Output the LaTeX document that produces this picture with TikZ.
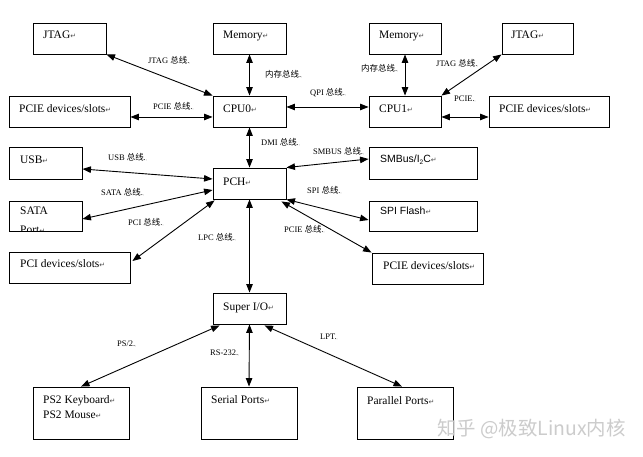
\documentclass[tikz,border=0pt]{standalone}
\usepackage{fontspec}
\setmainfont{Liberation Serif}
\setsansfont{Liberation Sans}
\newfontfamily\cjk{Noto Sans CJK SC}
\newfontfamily\symf{DejaVu Sans}
\usetikzlibrary{arrows.meta,calc,fit}
\newcommand{\ret}{{\symf\fontsize{7}{7}\selectfont\color{black!70}↵}}
\newcommand{\zx}{{\cjk 总线}}
\newcommand{\nc}{{\cjk 内存总线}}
\newcommand{\dt}{.{\fontsize{4}{4}\selectfont\color{black!60},}}
\begin{document}
\begin{tikzpicture}[x=1bp,y=-1bp,
  box/.style={draw, line width=0.9bp, inner sep=0pt},
  btxt/.style={anchor=base west, inner sep=0pt, font=\fontsize{11.5}{13}\selectfont},
  stxt/.style={anchor=base west, inner sep=0pt, font=\sffamily\fontsize{10.5}{13}\selectfont},
  lbl/.style={anchor=west, inner sep=0pt, font=\fontsize{8.5}{9}\selectfont},
  link/.style={line width=0.9bp, {Triangle[length=8.5bp,width=6.5bp]}-{Triangle[length=8.5bp,width=6.5bp]}},
]
\useasboundingbox (0,0) rectangle (643,457);
\fill[white] (0,0) rectangle (643,457);

% boxes
\node[box, fit={(33,23) (106,54)}] (jtagL) {};
\node[box, fit={(213,23) (286,54)}] (memL) {};
\node[box, fit={(9,96) (130,127)}] (pcieL) {};
\node[box, fit={(213,96) (286,127)}] (cpu0) {};
\node[box, fit={(369,23) (441,54)}] (memR) {};
\node[box, fit={(502,23) (573,54)}] (jtagR) {};
\node[box, fit={(369,96) (441,127)}] (cpu1) {};
\node[box, fit={(489,96) (609,127)}] (pcieR) {};
\node[box, fit={(9,147) (82,179)}] (usb) {};
\node[box, fit={(213,168) (286,199)}] (pch) {};
\node[box, fit={(9,201) (82,231)}] (sata) {};
\node[box, fit={(9,252) (130,283)}] (pci) {};
\node[box, fit={(369,147) (477,179)}] (smbus) {};
\node[box, fit={(369,201) (477,231)}] (spi) {};
\node[box, fit={(372,253) (483,284)}] (pcieD) {};
\node[box, fit={(213,293) (286,324)}] (sio) {};
\node[box, fit={(33,387) (129,439)}] (ps2) {};
\node[box, fit={(201,387) (297,439)}] (serial) {};
\node[box, fit={(357,387) (453,439)}] (parallel) {};

% box texts
\node[btxt] (jtagLt) at (43,39) {JTAG\ret};
\node[btxt] (memLt) at (223,39) {Memory\ret};
\node[btxt] (pcieLt) at (19,113) {PCIE devices/slots\ret};
\node[btxt] (cpu0t) at (223,113) {CPU0\ret};
\node[btxt] (memRt) at (379,39) {Memory\ret};
\node[btxt] (jtagRt) at (511,39) {JTAG\ret};
\node[btxt] (cpu1t) at (379,113) {CPU1\ret};
\node[btxt] (pcieRt) at (499,113) {PCIE devices/slots\ret};
\node[btxt] (usbt) at (20,164) {USB\ret};
\node[btxt] (pcht) at (223,186) {PCH\ret};
\node[btxt] (satat) at (20,215) {SATA};
\begin{scope}
  \clip (9,201) rectangle (82,231);
  \node[btxt] (satat2) at (20,234) {Port\ret};
\end{scope}
\node[btxt] (pcit) at (20,268) {PCI devices/slots\ret};
\node[stxt] (smbust) at (380,163) {SMBus/I\raisebox{-0.35ex}{\fontsize{6.5}{7}\selectfont 2}C\ret};
\node[stxt] (spit) at (380,215) {SPI Flash\ret};
\node[btxt] (pcieDt) at (383,270) {PCIE devices/slots\ret};
\node[btxt] (siot) at (223,311) {Super I/O\ret};
\node[btxt] (ps2t1) at (43,403) {PS2 Keyboard\ret};
\node[btxt] (ps2t2) at (43,418) {PS2 Mouse\ret};
\node[btxt] (serialt) at (211,403) {Serial Ports\ret};
\node[btxt] (parallelt) at (367,404) {Parallel Ports\ret};

% connectors
\draw[link] (jtagL.south east) -- (cpu0.north west);
\draw[link] (memL.south) -- (cpu0.north);
\draw[link] ($(pcieL.east)+(0,5.5)$) -- ($(cpu0.west)+(0,5.5)$);
\draw[link] ($(cpu0.east)+(0,-4.5)$) -- ($(cpu1.west)+(0,-4.5)$);
\draw[link] (memR.south) -- (cpu1.north);
\draw[link] (jtagR.south west) -- (cpu1.north east);
\draw[link] ($(cpu1.east)+(0,5.5)$) -- ($(pcieR.west)+(0,5.5)$);
\draw[link] (cpu0.south) -- (pch.north);
\draw[link] ($(usb.east)+(0,6)$) -- ($(pch.west)+(0,-4.5)$);
\draw[link] ($(sata.east)+(0,3)$) -- ($(pch.west)+(0,6.5)$);
\draw[link] ($(pci.east)+(2,-6.5)$) -- ($(pch.south west)+(2,1)$);
\draw[link] (pch.north east) -- ($(smbus.west)+(0,-4)$);
\draw[link] (pch.south east) -- ($(spi.west)+(0,4)$);
\draw[link] ($(pch.south east)+(-5,2)$) -- (pcieD.north west);
\draw[link] (pch.south) -- (sio.north);
\draw[link] ($(sio.south west)+(7,1)$) -- (ps2.north);
\draw[link] (sio.south) -- (serial.north);
\draw[link] ($(sio.south)+(15,1)$) -- ($(parallel.north)+(-3,0)$);

% labels
\node[lbl] (l1) at (148,60) {JTAG \zx\dt};
\node[lbl] (l2) at (265,74) {\nc\dt};
\node[lbl] (l3) at (153,106) {PCIE \zx\dt};
\node[lbl] (l4) at (310,93) {QPI \zx\dt};
\node[lbl] (l5) at (361,68) {\nc\dt};
\node[lbl] (l6) at (436,63) {JTAG \zx\dt};
\node[lbl] (l7) at (454,99) {PCIE\dt};
\node[lbl] (l8) at (261,142) {DMI \zx\dt};
\node[lbl] (l9) at (313,151) {SMBUS \zx\dt};
\node[lbl] (l10) at (108,157) {USB \zx\dt};
\node[lbl] (l11) at (101,192) {SATA \zx\dt};
\node[lbl] (l12) at (128,222) {PCI \zx\dt};
\node[lbl] (l13) at (198,237) {LPC \zx\dt};
\node[lbl] (l14) at (307,190) {SPI \zx\dt};
\node[lbl] (l15) at (284,229) {PCIE \zx\dt};
\node[lbl] (l16) at (117,344) {PS/2\dt};
\node[lbl] (l17) at (210,353) {RS-232\dt};
\node[lbl] (l18) at (320,337) {LPT\dt};

% watermark
\node[anchor=west, inner sep=0pt, text=black!20, font=\cjk\fontsize{19.5}{20}\selectfont] (wm) at (437,429) {知乎 @极致Linux内核};
\end{tikzpicture}
\end{document}
